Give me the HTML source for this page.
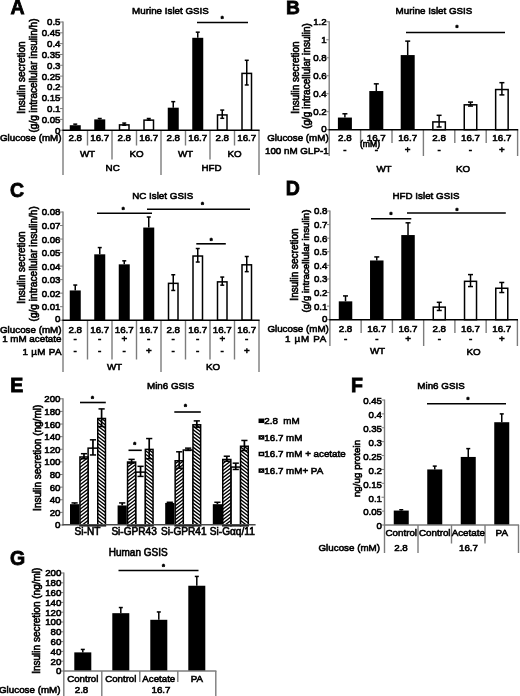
<!DOCTYPE html>
<html lang="en"><head><meta charset="utf-8"><title>GSIS figure</title>
<style>html,body{margin:0;padding:0;background:#fff;}svg{display:block;filter:blur(0.45px);}</style>
</head><body>
<svg width="520" height="696" viewBox="0 0 520 696" font-family='"Liberation Sans", Arial, sans-serif' fill="#000">
<style>text{stroke:#000;stroke-width:0.6px;}</style>
<rect width="520" height="696" fill="#fff"/>
<text x="10.60" y="14.00" font-size="19.5" text-anchor="start" font-weight="bold" style="stroke-width:0.8px">A</text>
<text x="170.50" y="14.03" font-size="9.8" text-anchor="middle">Murine Islet GSIS</text>
<line x1="63.00" y1="21.50" x2="63.00" y2="130.70" stroke="#7c7c7c" stroke-width="1.4" stroke-linecap="butt"/>
<line x1="60.00" y1="130.20" x2="63.00" y2="130.20" stroke="#7c7c7c" stroke-width="1.0" stroke-linecap="butt"/>
<text x="60.50" y="133.69" font-size="9.7" text-anchor="end">0</text>
<line x1="60.00" y1="119.38" x2="63.00" y2="119.38" stroke="#7c7c7c" stroke-width="1.0" stroke-linecap="butt"/>
<text x="60.50" y="122.87" font-size="9.7" text-anchor="end">0.05</text>
<line x1="60.00" y1="108.56" x2="63.00" y2="108.56" stroke="#7c7c7c" stroke-width="1.0" stroke-linecap="butt"/>
<text x="60.50" y="112.05" font-size="9.7" text-anchor="end">0.1</text>
<line x1="60.00" y1="97.74" x2="63.00" y2="97.74" stroke="#7c7c7c" stroke-width="1.0" stroke-linecap="butt"/>
<text x="60.50" y="101.23" font-size="9.7" text-anchor="end">0.15</text>
<line x1="60.00" y1="86.92" x2="63.00" y2="86.92" stroke="#7c7c7c" stroke-width="1.0" stroke-linecap="butt"/>
<text x="60.50" y="90.41" font-size="9.7" text-anchor="end">0.2</text>
<line x1="60.00" y1="76.10" x2="63.00" y2="76.10" stroke="#7c7c7c" stroke-width="1.0" stroke-linecap="butt"/>
<text x="60.50" y="79.59" font-size="9.7" text-anchor="end">0.25</text>
<line x1="60.00" y1="65.28" x2="63.00" y2="65.28" stroke="#7c7c7c" stroke-width="1.0" stroke-linecap="butt"/>
<text x="60.50" y="68.77" font-size="9.7" text-anchor="end">0.3</text>
<line x1="60.00" y1="54.46" x2="63.00" y2="54.46" stroke="#7c7c7c" stroke-width="1.0" stroke-linecap="butt"/>
<text x="60.50" y="57.95" font-size="9.7" text-anchor="end">0.35</text>
<line x1="60.00" y1="43.64" x2="63.00" y2="43.64" stroke="#7c7c7c" stroke-width="1.0" stroke-linecap="butt"/>
<text x="60.50" y="47.13" font-size="9.7" text-anchor="end">0.4</text>
<line x1="60.00" y1="32.82" x2="63.00" y2="32.82" stroke="#7c7c7c" stroke-width="1.0" stroke-linecap="butt"/>
<text x="60.50" y="36.31" font-size="9.7" text-anchor="end">0.45</text>
<line x1="60.00" y1="22.00" x2="63.00" y2="22.00" stroke="#7c7c7c" stroke-width="1.0" stroke-linecap="butt"/>
<text x="60.50" y="25.49" font-size="9.7" text-anchor="end">0.5</text>
<text transform="translate(25.20,77.50) rotate(-90)" font-size="10.0" text-anchor="middle">Insulin secretion</text>
<text transform="translate(36.80,75.50) rotate(-90)" font-size="10.0" text-anchor="middle">(g/g intracellular insulin/h)</text>
<rect x="69.75" y="125.22" width="11.00" height="4.98" fill="#000"/>
<line x1="75.25" y1="125.22" x2="75.25" y2="124.14" stroke="#000" stroke-width="1.5" stroke-linecap="butt"/>
<line x1="73.25" y1="124.14" x2="77.25" y2="124.14" stroke="#000" stroke-width="1.5" stroke-linecap="butt"/>
<rect x="94.25" y="119.38" width="11.00" height="10.82" fill="#000"/>
<line x1="99.75" y1="119.38" x2="99.75" y2="118.51" stroke="#000" stroke-width="1.5" stroke-linecap="butt"/>
<line x1="97.75" y1="118.51" x2="101.75" y2="118.51" stroke="#000" stroke-width="1.5" stroke-linecap="butt"/>
<rect x="119.50" y="124.89" width="9.50" height="5.31" fill="#fff" stroke="#000" stroke-width="1.5"/>
<line x1="124.25" y1="125.22" x2="124.25" y2="123.06" stroke="#000" stroke-width="1.5" stroke-linecap="butt"/>
<line x1="122.25" y1="123.06" x2="126.25" y2="123.06" stroke="#000" stroke-width="1.5" stroke-linecap="butt"/>
<line x1="122.25" y1="125.22" x2="126.25" y2="125.22" stroke="#000" stroke-width="1.5" stroke-linecap="butt"/>
<rect x="144.00" y="120.13" width="9.50" height="10.07" fill="#fff" stroke="#000" stroke-width="1.5"/>
<line x1="148.75" y1="120.25" x2="148.75" y2="118.51" stroke="#000" stroke-width="1.5" stroke-linecap="butt"/>
<line x1="146.75" y1="118.51" x2="150.75" y2="118.51" stroke="#000" stroke-width="1.5" stroke-linecap="butt"/>
<line x1="146.75" y1="120.25" x2="150.75" y2="120.25" stroke="#000" stroke-width="1.5" stroke-linecap="butt"/>
<rect x="167.75" y="107.69" width="11.00" height="22.51" fill="#000"/>
<line x1="173.25" y1="107.69" x2="173.25" y2="101.64" stroke="#000" stroke-width="1.5" stroke-linecap="butt"/>
<line x1="171.25" y1="101.64" x2="175.25" y2="101.64" stroke="#000" stroke-width="1.5" stroke-linecap="butt"/>
<rect x="192.25" y="37.80" width="11.00" height="92.40" fill="#000"/>
<line x1="197.75" y1="37.80" x2="197.75" y2="32.17" stroke="#000" stroke-width="1.5" stroke-linecap="butt"/>
<line x1="195.75" y1="32.17" x2="199.75" y2="32.17" stroke="#000" stroke-width="1.5" stroke-linecap="butt"/>
<rect x="217.50" y="114.94" width="9.50" height="15.26" fill="#fff" stroke="#000" stroke-width="1.5"/>
<line x1="222.25" y1="118.30" x2="222.25" y2="110.07" stroke="#000" stroke-width="1.5" stroke-linecap="butt"/>
<line x1="220.25" y1="110.07" x2="224.25" y2="110.07" stroke="#000" stroke-width="1.5" stroke-linecap="butt"/>
<line x1="220.25" y1="118.30" x2="224.25" y2="118.30" stroke="#000" stroke-width="1.5" stroke-linecap="butt"/>
<rect x="242.00" y="73.39" width="9.50" height="56.81" fill="#fff" stroke="#000" stroke-width="1.5"/>
<line x1="246.75" y1="84.97" x2="246.75" y2="60.30" stroke="#000" stroke-width="1.5" stroke-linecap="butt"/>
<line x1="244.75" y1="60.30" x2="248.75" y2="60.30" stroke="#000" stroke-width="1.5" stroke-linecap="butt"/>
<line x1="244.75" y1="84.97" x2="248.75" y2="84.97" stroke="#000" stroke-width="1.5" stroke-linecap="butt"/>
<line x1="63.00" y1="130.20" x2="63.00" y2="175.00" stroke="#7c7c7c" stroke-width="1.4" stroke-linecap="butt"/>
<line x1="87.50" y1="130.20" x2="87.50" y2="145.50" stroke="#7c7c7c" stroke-width="1.4" stroke-linecap="butt"/>
<line x1="112.00" y1="130.20" x2="112.00" y2="159.50" stroke="#7c7c7c" stroke-width="1.4" stroke-linecap="butt"/>
<line x1="136.50" y1="130.20" x2="136.50" y2="145.50" stroke="#7c7c7c" stroke-width="1.4" stroke-linecap="butt"/>
<line x1="161.00" y1="130.20" x2="161.00" y2="175.00" stroke="#7c7c7c" stroke-width="1.4" stroke-linecap="butt"/>
<line x1="185.50" y1="130.20" x2="185.50" y2="145.50" stroke="#7c7c7c" stroke-width="1.4" stroke-linecap="butt"/>
<line x1="210.00" y1="130.20" x2="210.00" y2="159.50" stroke="#7c7c7c" stroke-width="1.4" stroke-linecap="butt"/>
<line x1="234.50" y1="130.20" x2="234.50" y2="145.50" stroke="#7c7c7c" stroke-width="1.4" stroke-linecap="butt"/>
<line x1="259.00" y1="130.20" x2="259.00" y2="175.00" stroke="#7c7c7c" stroke-width="1.4" stroke-linecap="butt"/>
<line x1="62.40" y1="130.20" x2="259.60" y2="130.20" stroke="#000" stroke-width="1.5" stroke-linecap="butt"/>
<text x="61.50" y="140.83" font-size="9.8" text-anchor="end">Glucose (mM)</text>
<text x="75.25" y="140.83" font-size="9.8" text-anchor="middle">2.8</text>
<text x="99.75" y="140.83" font-size="9.8" text-anchor="middle">16.7</text>
<text x="124.25" y="140.83" font-size="9.8" text-anchor="middle">2.8</text>
<text x="148.75" y="140.83" font-size="9.8" text-anchor="middle">16.7</text>
<text x="173.25" y="140.83" font-size="9.8" text-anchor="middle">2.8</text>
<text x="197.75" y="140.83" font-size="9.8" text-anchor="middle">16.7</text>
<text x="222.25" y="140.83" font-size="9.8" text-anchor="middle">2.8</text>
<text x="246.75" y="140.83" font-size="9.8" text-anchor="middle">16.7</text>
<text x="87.50" y="157.03" font-size="9.8" text-anchor="middle">WT</text>
<text x="136.50" y="157.03" font-size="9.8" text-anchor="middle">KO</text>
<text x="185.50" y="157.03" font-size="9.8" text-anchor="middle">WT</text>
<text x="234.50" y="157.03" font-size="9.8" text-anchor="middle">KO</text>
<text x="112.70" y="171.23" font-size="9.8" text-anchor="middle">NC</text>
<text x="211.50" y="171.23" font-size="9.8" text-anchor="middle">HFD</text>
<line x1="197.00" y1="22.50" x2="248.00" y2="22.50" stroke="#000" stroke-width="1.6" stroke-linecap="butt"/>
<text x="222.20" y="20.55" font-size="7.5" text-anchor="middle" font-weight="bold">*</text>
<text x="285.90" y="14.20" font-size="19.2" text-anchor="start" font-weight="bold" style="stroke-width:0.8px">B</text>
<text x="434.00" y="14.03" font-size="9.8" text-anchor="middle">Murine Islet GSIS</text>
<line x1="329.20" y1="21.30" x2="329.20" y2="130.20" stroke="#7c7c7c" stroke-width="1.4" stroke-linecap="butt"/>
<line x1="326.20" y1="129.70" x2="329.20" y2="129.70" stroke="#7c7c7c" stroke-width="1.0" stroke-linecap="butt"/>
<text x="326.70" y="132.19" font-size="9.7" text-anchor="end">0</text>
<line x1="326.20" y1="111.72" x2="329.20" y2="111.72" stroke="#7c7c7c" stroke-width="1.0" stroke-linecap="butt"/>
<text x="326.70" y="115.21" font-size="9.7" text-anchor="end">0.2</text>
<line x1="326.20" y1="93.73" x2="329.20" y2="93.73" stroke="#7c7c7c" stroke-width="1.0" stroke-linecap="butt"/>
<text x="326.70" y="97.23" font-size="9.7" text-anchor="end">0.4</text>
<line x1="326.20" y1="75.75" x2="329.20" y2="75.75" stroke="#7c7c7c" stroke-width="1.0" stroke-linecap="butt"/>
<text x="326.70" y="79.24" font-size="9.7" text-anchor="end">0.6</text>
<line x1="326.20" y1="57.77" x2="329.20" y2="57.77" stroke="#7c7c7c" stroke-width="1.0" stroke-linecap="butt"/>
<text x="326.70" y="61.26" font-size="9.7" text-anchor="end">0.8</text>
<line x1="326.20" y1="39.78" x2="329.20" y2="39.78" stroke="#7c7c7c" stroke-width="1.0" stroke-linecap="butt"/>
<text x="326.70" y="43.28" font-size="9.7" text-anchor="end">1</text>
<line x1="326.20" y1="21.80" x2="329.20" y2="21.80" stroke="#7c7c7c" stroke-width="1.0" stroke-linecap="butt"/>
<text x="326.70" y="25.29" font-size="9.7" text-anchor="end">1.2</text>
<text transform="translate(299.00,77.50) rotate(-90)" font-size="10.0" text-anchor="middle">Insulin secretion</text>
<text transform="translate(310.00,76.00) rotate(-90)" font-size="10.0" text-anchor="middle">(g/g intracellular insulin)</text>
<rect x="337.90" y="117.56" width="14.00" height="12.14" fill="#000"/>
<line x1="344.90" y1="117.56" x2="344.90" y2="113.78" stroke="#000" stroke-width="1.5" stroke-linecap="butt"/>
<line x1="342.40" y1="113.78" x2="347.40" y2="113.78" stroke="#000" stroke-width="1.5" stroke-linecap="butt"/>
<rect x="369.30" y="91.04" width="14.00" height="38.66" fill="#000"/>
<line x1="376.30" y1="91.04" x2="376.30" y2="83.84" stroke="#000" stroke-width="1.5" stroke-linecap="butt"/>
<line x1="373.80" y1="83.84" x2="378.80" y2="83.84" stroke="#000" stroke-width="1.5" stroke-linecap="butt"/>
<rect x="400.70" y="55.07" width="14.00" height="74.63" fill="#000"/>
<line x1="407.70" y1="55.07" x2="407.70" y2="41.13" stroke="#000" stroke-width="1.5" stroke-linecap="butt"/>
<line x1="405.20" y1="41.13" x2="410.20" y2="41.13" stroke="#000" stroke-width="1.5" stroke-linecap="butt"/>
<rect x="432.85" y="121.91" width="12.50" height="7.79" fill="#fff" stroke="#000" stroke-width="1.5"/>
<line x1="439.10" y1="127.00" x2="439.10" y2="115.31" stroke="#000" stroke-width="1.5" stroke-linecap="butt"/>
<line x1="436.60" y1="115.31" x2="441.60" y2="115.31" stroke="#000" stroke-width="1.5" stroke-linecap="butt"/>
<line x1="436.60" y1="127.00" x2="441.60" y2="127.00" stroke="#000" stroke-width="1.5" stroke-linecap="butt"/>
<rect x="464.25" y="104.82" width="12.50" height="24.88" fill="#fff" stroke="#000" stroke-width="1.5"/>
<line x1="470.50" y1="106.05" x2="470.50" y2="102.10" stroke="#000" stroke-width="1.5" stroke-linecap="butt"/>
<line x1="468.00" y1="102.10" x2="473.00" y2="102.10" stroke="#000" stroke-width="1.5" stroke-linecap="butt"/>
<line x1="468.00" y1="106.05" x2="473.00" y2="106.05" stroke="#000" stroke-width="1.5" stroke-linecap="butt"/>
<rect x="495.65" y="89.54" width="12.50" height="40.16" fill="#fff" stroke="#000" stroke-width="1.5"/>
<line x1="501.90" y1="94.90" x2="501.90" y2="82.67" stroke="#000" stroke-width="1.5" stroke-linecap="butt"/>
<line x1="499.40" y1="82.67" x2="504.40" y2="82.67" stroke="#000" stroke-width="1.5" stroke-linecap="butt"/>
<line x1="499.40" y1="94.90" x2="504.40" y2="94.90" stroke="#000" stroke-width="1.5" stroke-linecap="butt"/>
<line x1="329.20" y1="129.70" x2="329.20" y2="156.00" stroke="#7c7c7c" stroke-width="1.4" stroke-linecap="butt"/>
<line x1="360.60" y1="129.70" x2="360.60" y2="143.00" stroke="#7c7c7c" stroke-width="1.4" stroke-linecap="butt"/>
<line x1="392.00" y1="129.70" x2="392.00" y2="143.00" stroke="#7c7c7c" stroke-width="1.4" stroke-linecap="butt"/>
<line x1="423.40" y1="129.70" x2="423.40" y2="156.00" stroke="#7c7c7c" stroke-width="1.4" stroke-linecap="butt"/>
<line x1="454.80" y1="129.70" x2="454.80" y2="143.00" stroke="#7c7c7c" stroke-width="1.4" stroke-linecap="butt"/>
<line x1="486.20" y1="129.70" x2="486.20" y2="143.00" stroke="#7c7c7c" stroke-width="1.4" stroke-linecap="butt"/>
<line x1="517.60" y1="129.70" x2="517.60" y2="156.00" stroke="#7c7c7c" stroke-width="1.4" stroke-linecap="butt"/>
<line x1="328.60" y1="129.70" x2="518.20" y2="129.70" stroke="#000" stroke-width="1.5" stroke-linecap="butt"/>
<text x="328.70" y="141.03" font-size="9.8" text-anchor="end">Glucose (mM)</text>
<text x="328.70" y="153.83" font-size="9.8" text-anchor="end">100 nM GLP-1</text>
<text x="344.90" y="141.03" font-size="9.8" text-anchor="middle">2.8</text>
<text x="376.30" y="141.03" font-size="9.8" text-anchor="middle">16.7</text>
<text x="407.70" y="141.03" font-size="9.8" text-anchor="middle">16.7</text>
<text x="439.10" y="141.03" font-size="9.8" text-anchor="middle">2.8</text>
<text x="470.50" y="141.03" font-size="9.8" text-anchor="middle">16.7</text>
<text x="501.90" y="141.03" font-size="9.8" text-anchor="middle">16.7</text>
<text x="344.90" y="153.03" font-size="9.8" text-anchor="middle">-</text>
<text x="376.30" y="153.03" font-size="9.8" text-anchor="middle">-</text>
<text x="407.70" y="153.03" font-size="9.8" text-anchor="middle">+</text>
<text x="439.10" y="153.03" font-size="9.8" text-anchor="middle">-</text>
<text x="470.50" y="153.03" font-size="9.8" text-anchor="middle">-</text>
<text x="501.90" y="153.03" font-size="9.8" text-anchor="middle">+</text>
<text x="370.00" y="147.40" font-size="8.6" text-anchor="middle">(mM)</text>
<text x="384.00" y="171.53" font-size="9.8" text-anchor="middle">WT</text>
<text x="463.00" y="171.53" font-size="9.8" text-anchor="middle">KO</text>
<line x1="406.00" y1="32.50" x2="505.00" y2="32.50" stroke="#000" stroke-width="1.6" stroke-linecap="butt"/>
<text x="457.00" y="30.05" font-size="7.5" text-anchor="middle" font-weight="bold">*</text>
<text x="9.90" y="196.70" font-size="19.5" text-anchor="start" font-weight="bold" style="stroke-width:0.8px">C</text>
<text x="162.70" y="198.83" font-size="9.8" text-anchor="middle">NC Islet GSIS</text>
<line x1="63.00" y1="211.50" x2="63.00" y2="320.70" stroke="#7c7c7c" stroke-width="1.4" stroke-linecap="butt"/>
<line x1="60.00" y1="320.20" x2="63.00" y2="320.20" stroke="#7c7c7c" stroke-width="1.0" stroke-linecap="butt"/>
<text x="60.50" y="322.49" font-size="9.7" text-anchor="end">0</text>
<line x1="60.00" y1="306.68" x2="63.00" y2="306.68" stroke="#7c7c7c" stroke-width="1.0" stroke-linecap="butt"/>
<text x="60.50" y="310.17" font-size="9.7" text-anchor="end">0.01</text>
<line x1="60.00" y1="293.15" x2="63.00" y2="293.15" stroke="#7c7c7c" stroke-width="1.0" stroke-linecap="butt"/>
<text x="60.50" y="296.64" font-size="9.7" text-anchor="end">0.02</text>
<line x1="60.00" y1="279.62" x2="63.00" y2="279.62" stroke="#7c7c7c" stroke-width="1.0" stroke-linecap="butt"/>
<text x="60.50" y="283.12" font-size="9.7" text-anchor="end">0.03</text>
<line x1="60.00" y1="266.10" x2="63.00" y2="266.10" stroke="#7c7c7c" stroke-width="1.0" stroke-linecap="butt"/>
<text x="60.50" y="269.59" font-size="9.7" text-anchor="end">0.04</text>
<line x1="60.00" y1="252.57" x2="63.00" y2="252.57" stroke="#7c7c7c" stroke-width="1.0" stroke-linecap="butt"/>
<text x="60.50" y="256.07" font-size="9.7" text-anchor="end">0.05</text>
<line x1="60.00" y1="239.05" x2="63.00" y2="239.05" stroke="#7c7c7c" stroke-width="1.0" stroke-linecap="butt"/>
<text x="60.50" y="242.54" font-size="9.7" text-anchor="end">0.06</text>
<line x1="60.00" y1="225.53" x2="63.00" y2="225.53" stroke="#7c7c7c" stroke-width="1.0" stroke-linecap="butt"/>
<text x="60.50" y="229.02" font-size="9.7" text-anchor="end">0.07</text>
<line x1="60.00" y1="212.00" x2="63.00" y2="212.00" stroke="#7c7c7c" stroke-width="1.0" stroke-linecap="butt"/>
<text x="60.50" y="215.49" font-size="9.7" text-anchor="end">0.08</text>
<text transform="translate(25.20,267.50) rotate(-90)" font-size="10.0" text-anchor="middle">Insulin secretion</text>
<text transform="translate(36.80,263.80) rotate(-90)" font-size="10.15" text-anchor="middle">(g/g intracellular insulin/h)</text>
<rect x="69.75" y="290.44" width="11.00" height="29.75" fill="#000"/>
<line x1="75.25" y1="290.44" x2="75.25" y2="285.03" stroke="#000" stroke-width="1.5" stroke-linecap="butt"/>
<line x1="73.25" y1="285.03" x2="77.25" y2="285.03" stroke="#000" stroke-width="1.5" stroke-linecap="butt"/>
<rect x="94.25" y="254.33" width="11.00" height="65.87" fill="#000"/>
<line x1="99.75" y1="254.33" x2="99.75" y2="247.57" stroke="#000" stroke-width="1.5" stroke-linecap="butt"/>
<line x1="97.75" y1="247.57" x2="101.75" y2="247.57" stroke="#000" stroke-width="1.5" stroke-linecap="butt"/>
<rect x="118.75" y="264.34" width="11.00" height="55.86" fill="#000"/>
<line x1="124.25" y1="264.34" x2="124.25" y2="260.83" stroke="#000" stroke-width="1.5" stroke-linecap="butt"/>
<line x1="122.25" y1="260.83" x2="126.25" y2="260.83" stroke="#000" stroke-width="1.5" stroke-linecap="butt"/>
<rect x="143.25" y="227.55" width="11.00" height="92.65" fill="#000"/>
<line x1="148.75" y1="227.55" x2="148.75" y2="217.00" stroke="#000" stroke-width="1.5" stroke-linecap="butt"/>
<line x1="146.75" y1="217.00" x2="150.75" y2="217.00" stroke="#000" stroke-width="1.5" stroke-linecap="butt"/>
<rect x="168.50" y="283.35" width="9.50" height="36.85" fill="#fff" stroke="#000" stroke-width="1.5"/>
<line x1="173.25" y1="290.44" x2="173.25" y2="274.76" stroke="#000" stroke-width="1.5" stroke-linecap="butt"/>
<line x1="171.25" y1="274.76" x2="175.25" y2="274.76" stroke="#000" stroke-width="1.5" stroke-linecap="butt"/>
<line x1="171.25" y1="290.44" x2="175.25" y2="290.44" stroke="#000" stroke-width="1.5" stroke-linecap="butt"/>
<rect x="193.00" y="256.03" width="9.50" height="64.17" fill="#fff" stroke="#000" stroke-width="1.5"/>
<line x1="197.75" y1="262.04" x2="197.75" y2="248.52" stroke="#000" stroke-width="1.5" stroke-linecap="butt"/>
<line x1="195.75" y1="248.52" x2="199.75" y2="248.52" stroke="#000" stroke-width="1.5" stroke-linecap="butt"/>
<line x1="195.75" y1="262.04" x2="199.75" y2="262.04" stroke="#000" stroke-width="1.5" stroke-linecap="butt"/>
<rect x="217.50" y="281.86" width="9.50" height="38.34" fill="#fff" stroke="#000" stroke-width="1.5"/>
<line x1="222.25" y1="285.17" x2="222.25" y2="277.06" stroke="#000" stroke-width="1.5" stroke-linecap="butt"/>
<line x1="220.25" y1="277.06" x2="224.25" y2="277.06" stroke="#000" stroke-width="1.5" stroke-linecap="butt"/>
<line x1="220.25" y1="285.17" x2="224.25" y2="285.17" stroke="#000" stroke-width="1.5" stroke-linecap="butt"/>
<rect x="242.00" y="264.82" width="9.50" height="55.38" fill="#fff" stroke="#000" stroke-width="1.5"/>
<line x1="246.75" y1="271.65" x2="246.75" y2="256.50" stroke="#000" stroke-width="1.5" stroke-linecap="butt"/>
<line x1="244.75" y1="256.50" x2="248.75" y2="256.50" stroke="#000" stroke-width="1.5" stroke-linecap="butt"/>
<line x1="244.75" y1="271.65" x2="248.75" y2="271.65" stroke="#000" stroke-width="1.5" stroke-linecap="butt"/>
<line x1="63.00" y1="320.20" x2="63.00" y2="372.00" stroke="#7c7c7c" stroke-width="1.4" stroke-linecap="butt"/>
<line x1="87.50" y1="320.20" x2="87.50" y2="359.50" stroke="#7c7c7c" stroke-width="1.4" stroke-linecap="butt"/>
<line x1="112.00" y1="320.20" x2="112.00" y2="359.50" stroke="#7c7c7c" stroke-width="1.4" stroke-linecap="butt"/>
<line x1="136.50" y1="320.20" x2="136.50" y2="359.50" stroke="#7c7c7c" stroke-width="1.4" stroke-linecap="butt"/>
<line x1="161.00" y1="320.20" x2="161.00" y2="372.00" stroke="#7c7c7c" stroke-width="1.4" stroke-linecap="butt"/>
<line x1="185.50" y1="320.20" x2="185.50" y2="359.50" stroke="#7c7c7c" stroke-width="1.4" stroke-linecap="butt"/>
<line x1="210.00" y1="320.20" x2="210.00" y2="359.50" stroke="#7c7c7c" stroke-width="1.4" stroke-linecap="butt"/>
<line x1="234.50" y1="320.20" x2="234.50" y2="359.50" stroke="#7c7c7c" stroke-width="1.4" stroke-linecap="butt"/>
<line x1="259.00" y1="320.20" x2="259.00" y2="372.00" stroke="#7c7c7c" stroke-width="1.4" stroke-linecap="butt"/>
<line x1="62.40" y1="320.20" x2="259.60" y2="320.20" stroke="#000" stroke-width="1.5" stroke-linecap="butt"/>
<text x="61.50" y="332.73" font-size="9.8" text-anchor="end">Glucose (mM)</text>
<text x="61.50" y="342.23" font-size="9.8" text-anchor="end">1 mM acetate</text>
<text x="61.50" y="354.73" font-size="9.8" text-anchor="end" textLength="39">1 µM PA</text>
<text x="75.25" y="332.73" font-size="9.8" text-anchor="middle">2.8</text>
<text x="99.75" y="332.73" font-size="9.8" text-anchor="middle">16.7</text>
<text x="124.25" y="332.73" font-size="9.8" text-anchor="middle">16.7</text>
<text x="148.75" y="332.73" font-size="9.8" text-anchor="middle">16.7</text>
<text x="173.25" y="332.73" font-size="9.8" text-anchor="middle">2.8</text>
<text x="197.75" y="332.73" font-size="9.8" text-anchor="middle">16.7</text>
<text x="222.25" y="332.73" font-size="9.8" text-anchor="middle">16.7</text>
<text x="246.75" y="332.73" font-size="9.8" text-anchor="middle">16.7</text>
<text x="75.25" y="341.53" font-size="9.8" text-anchor="middle">-</text>
<text x="99.75" y="341.53" font-size="9.8" text-anchor="middle">-</text>
<text x="124.25" y="341.53" font-size="9.8" text-anchor="middle">+</text>
<text x="148.75" y="341.53" font-size="9.8" text-anchor="middle">-</text>
<text x="173.25" y="341.53" font-size="9.8" text-anchor="middle">-</text>
<text x="197.75" y="341.53" font-size="9.8" text-anchor="middle">-</text>
<text x="222.25" y="341.53" font-size="9.8" text-anchor="middle">+</text>
<text x="246.75" y="341.53" font-size="9.8" text-anchor="middle">-</text>
<text x="75.25" y="354.03" font-size="9.8" text-anchor="middle">-</text>
<text x="99.75" y="354.03" font-size="9.8" text-anchor="middle">-</text>
<text x="124.25" y="354.03" font-size="9.8" text-anchor="middle">-</text>
<text x="148.75" y="354.03" font-size="9.8" text-anchor="middle">+</text>
<text x="173.25" y="354.03" font-size="9.8" text-anchor="middle">-</text>
<text x="197.75" y="354.03" font-size="9.8" text-anchor="middle">-</text>
<text x="222.25" y="354.03" font-size="9.8" text-anchor="middle">-</text>
<text x="246.75" y="354.03" font-size="9.8" text-anchor="middle">+</text>
<text x="114.50" y="370.03" font-size="9.8" text-anchor="middle">WT</text>
<text x="213.00" y="370.03" font-size="9.8" text-anchor="middle">KO</text>
<line x1="97.00" y1="213.20" x2="152.00" y2="213.20" stroke="#000" stroke-width="1.6" stroke-linecap="butt"/>
<text x="123.30" y="211.85" font-size="7.5" text-anchor="middle" font-weight="bold">*</text>
<line x1="147.00" y1="209.30" x2="250.00" y2="209.30" stroke="#000" stroke-width="1.6" stroke-linecap="butt"/>
<text x="202.50" y="207.05" font-size="7.5" text-anchor="middle" font-weight="bold">*</text>
<line x1="196.30" y1="243.80" x2="225.80" y2="243.80" stroke="#000" stroke-width="1.6" stroke-linecap="butt"/>
<text x="211.30" y="243.05" font-size="7.5" text-anchor="middle" font-weight="bold">*</text>
<text x="285.70" y="195.10" font-size="19.5" text-anchor="start" font-weight="bold" style="stroke-width:0.8px">D</text>
<text x="426.00" y="198.83" font-size="9.8" text-anchor="middle">HFD Islet GSIS</text>
<line x1="329.90" y1="210.50" x2="329.90" y2="320.20" stroke="#7c7c7c" stroke-width="1.4" stroke-linecap="butt"/>
<line x1="326.90" y1="319.70" x2="329.90" y2="319.70" stroke="#7c7c7c" stroke-width="1.0" stroke-linecap="butt"/>
<text x="327.40" y="321.99" font-size="9.7" text-anchor="end">0</text>
<line x1="326.90" y1="306.11" x2="329.90" y2="306.11" stroke="#7c7c7c" stroke-width="1.0" stroke-linecap="butt"/>
<text x="327.40" y="309.60" font-size="9.7" text-anchor="end">0.1</text>
<line x1="326.90" y1="292.52" x2="329.90" y2="292.52" stroke="#7c7c7c" stroke-width="1.0" stroke-linecap="butt"/>
<text x="327.40" y="296.02" font-size="9.7" text-anchor="end">0.2</text>
<line x1="326.90" y1="278.94" x2="329.90" y2="278.94" stroke="#7c7c7c" stroke-width="1.0" stroke-linecap="butt"/>
<text x="327.40" y="282.43" font-size="9.7" text-anchor="end">0.3</text>
<line x1="326.90" y1="265.35" x2="329.90" y2="265.35" stroke="#7c7c7c" stroke-width="1.0" stroke-linecap="butt"/>
<text x="327.40" y="268.84" font-size="9.7" text-anchor="end">0.4</text>
<line x1="326.90" y1="251.76" x2="329.90" y2="251.76" stroke="#7c7c7c" stroke-width="1.0" stroke-linecap="butt"/>
<text x="327.40" y="255.25" font-size="9.7" text-anchor="end">0.5</text>
<line x1="326.90" y1="238.18" x2="329.90" y2="238.18" stroke="#7c7c7c" stroke-width="1.0" stroke-linecap="butt"/>
<text x="327.40" y="241.67" font-size="9.7" text-anchor="end">0.6</text>
<line x1="326.90" y1="224.59" x2="329.90" y2="224.59" stroke="#7c7c7c" stroke-width="1.0" stroke-linecap="butt"/>
<text x="327.40" y="228.08" font-size="9.7" text-anchor="end">0.7</text>
<line x1="326.90" y1="211.00" x2="329.90" y2="211.00" stroke="#7c7c7c" stroke-width="1.0" stroke-linecap="butt"/>
<text x="327.40" y="214.49" font-size="9.7" text-anchor="end">0.8</text>
<text transform="translate(297.70,264.50) rotate(-90)" font-size="10.0" text-anchor="middle">Insulin secretion</text>
<text transform="translate(308.70,261.00) rotate(-90)" font-size="9.75" text-anchor="middle">(g/g intracellular insulin)</text>
<rect x="338.77" y="301.36" width="13.50" height="18.34" fill="#000"/>
<line x1="345.52" y1="301.36" x2="345.52" y2="295.92" stroke="#000" stroke-width="1.5" stroke-linecap="butt"/>
<line x1="343.02" y1="295.92" x2="348.02" y2="295.92" stroke="#000" stroke-width="1.5" stroke-linecap="butt"/>
<rect x="370.02" y="260.46" width="13.50" height="59.24" fill="#000"/>
<line x1="376.77" y1="260.46" x2="376.77" y2="256.93" stroke="#000" stroke-width="1.5" stroke-linecap="butt"/>
<line x1="374.27" y1="256.93" x2="379.27" y2="256.93" stroke="#000" stroke-width="1.5" stroke-linecap="butt"/>
<rect x="401.27" y="235.05" width="13.50" height="84.65" fill="#000"/>
<line x1="408.02" y1="235.05" x2="408.02" y2="222.82" stroke="#000" stroke-width="1.5" stroke-linecap="butt"/>
<line x1="405.52" y1="222.82" x2="410.52" y2="222.82" stroke="#000" stroke-width="1.5" stroke-linecap="butt"/>
<rect x="433.27" y="307.13" width="12.00" height="12.57" fill="#fff" stroke="#000" stroke-width="1.5"/>
<line x1="439.27" y1="310.46" x2="439.27" y2="302.31" stroke="#000" stroke-width="1.5" stroke-linecap="butt"/>
<line x1="436.77" y1="302.31" x2="441.77" y2="302.31" stroke="#000" stroke-width="1.5" stroke-linecap="butt"/>
<line x1="436.77" y1="310.46" x2="441.77" y2="310.46" stroke="#000" stroke-width="1.5" stroke-linecap="butt"/>
<rect x="464.52" y="281.32" width="12.00" height="38.38" fill="#fff" stroke="#000" stroke-width="1.5"/>
<line x1="470.52" y1="286.55" x2="470.52" y2="274.59" stroke="#000" stroke-width="1.5" stroke-linecap="butt"/>
<line x1="468.02" y1="274.59" x2="473.02" y2="274.59" stroke="#000" stroke-width="1.5" stroke-linecap="butt"/>
<line x1="468.02" y1="286.55" x2="473.02" y2="286.55" stroke="#000" stroke-width="1.5" stroke-linecap="butt"/>
<rect x="495.77" y="288.25" width="12.00" height="31.45" fill="#fff" stroke="#000" stroke-width="1.5"/>
<line x1="501.77" y1="292.52" x2="501.77" y2="282.47" stroke="#000" stroke-width="1.5" stroke-linecap="butt"/>
<line x1="499.27" y1="282.47" x2="504.27" y2="282.47" stroke="#000" stroke-width="1.5" stroke-linecap="butt"/>
<line x1="499.27" y1="292.52" x2="504.27" y2="292.52" stroke="#000" stroke-width="1.5" stroke-linecap="butt"/>
<line x1="329.90" y1="319.70" x2="329.90" y2="346.00" stroke="#7c7c7c" stroke-width="1.4" stroke-linecap="butt"/>
<line x1="361.15" y1="319.70" x2="361.15" y2="333.00" stroke="#7c7c7c" stroke-width="1.4" stroke-linecap="butt"/>
<line x1="392.40" y1="319.70" x2="392.40" y2="333.00" stroke="#7c7c7c" stroke-width="1.4" stroke-linecap="butt"/>
<line x1="423.65" y1="319.70" x2="423.65" y2="346.00" stroke="#7c7c7c" stroke-width="1.4" stroke-linecap="butt"/>
<line x1="454.90" y1="319.70" x2="454.90" y2="333.00" stroke="#7c7c7c" stroke-width="1.4" stroke-linecap="butt"/>
<line x1="486.15" y1="319.70" x2="486.15" y2="333.00" stroke="#7c7c7c" stroke-width="1.4" stroke-linecap="butt"/>
<line x1="517.40" y1="319.70" x2="517.40" y2="346.00" stroke="#7c7c7c" stroke-width="1.4" stroke-linecap="butt"/>
<line x1="329.30" y1="319.70" x2="518.00" y2="319.70" stroke="#000" stroke-width="1.5" stroke-linecap="butt"/>
<text x="328.90" y="331.83" font-size="9.8" text-anchor="end">Glucose (mM)</text>
<text x="326.40" y="342.03" font-size="9.8" text-anchor="end" textLength="41.5">1 µM PA</text>
<text x="345.52" y="331.73" font-size="9.8" text-anchor="middle">2.8</text>
<text x="376.77" y="331.73" font-size="9.8" text-anchor="middle">16.7</text>
<text x="408.02" y="331.73" font-size="9.8" text-anchor="middle">16.7</text>
<text x="439.27" y="331.73" font-size="9.8" text-anchor="middle">2.8</text>
<text x="470.52" y="331.73" font-size="9.8" text-anchor="middle">16.7</text>
<text x="501.77" y="331.73" font-size="9.8" text-anchor="middle">16.7</text>
<text x="345.52" y="341.73" font-size="9.8" text-anchor="middle">-</text>
<text x="376.77" y="341.73" font-size="9.8" text-anchor="middle">-</text>
<text x="408.02" y="341.73" font-size="9.8" text-anchor="middle">+</text>
<text x="439.27" y="341.73" font-size="9.8" text-anchor="middle">-</text>
<text x="470.52" y="341.73" font-size="9.8" text-anchor="middle">-</text>
<text x="501.77" y="341.73" font-size="9.8" text-anchor="middle">+</text>
<text x="377.50" y="354.33" font-size="9.8" text-anchor="middle">WT</text>
<text x="473.50" y="354.53" font-size="9.8" text-anchor="middle">KO</text>
<line x1="371.00" y1="218.80" x2="411.30" y2="218.80" stroke="#000" stroke-width="1.6" stroke-linecap="butt"/>
<text x="391.00" y="216.55" font-size="7.5" text-anchor="middle" font-weight="bold">*</text>
<line x1="407.00" y1="213.00" x2="505.80" y2="213.00" stroke="#000" stroke-width="1.6" stroke-linecap="butt"/>
<text x="457.00" y="212.55" font-size="7.5" text-anchor="middle" font-weight="bold">*</text>
<text x="10.30" y="391.70" font-size="19.5" text-anchor="start" font-weight="bold" style="stroke-width:0.8px">E</text>
<text x="170.70" y="388.83" font-size="9.8" text-anchor="middle">Min6 GSIS</text>
<line x1="63.00" y1="398.30" x2="63.00" y2="525.50" stroke="#7c7c7c" stroke-width="1.4" stroke-linecap="butt"/>
<line x1="60.00" y1="525.00" x2="63.00" y2="525.00" stroke="#7c7c7c" stroke-width="1.0" stroke-linecap="butt"/>
<text x="60.50" y="528.49" font-size="9.7" text-anchor="end">0</text>
<line x1="60.00" y1="512.38" x2="63.00" y2="512.38" stroke="#7c7c7c" stroke-width="1.0" stroke-linecap="butt"/>
<text x="60.50" y="515.87" font-size="9.7" text-anchor="end">20</text>
<line x1="60.00" y1="499.76" x2="63.00" y2="499.76" stroke="#7c7c7c" stroke-width="1.0" stroke-linecap="butt"/>
<text x="60.50" y="503.25" font-size="9.7" text-anchor="end">40</text>
<line x1="60.00" y1="487.14" x2="63.00" y2="487.14" stroke="#7c7c7c" stroke-width="1.0" stroke-linecap="butt"/>
<text x="60.50" y="490.63" font-size="9.7" text-anchor="end">60</text>
<line x1="60.00" y1="474.52" x2="63.00" y2="474.52" stroke="#7c7c7c" stroke-width="1.0" stroke-linecap="butt"/>
<text x="60.50" y="478.01" font-size="9.7" text-anchor="end">80</text>
<line x1="60.00" y1="461.90" x2="63.00" y2="461.90" stroke="#7c7c7c" stroke-width="1.0" stroke-linecap="butt"/>
<text x="60.50" y="465.39" font-size="9.7" text-anchor="end">100</text>
<line x1="60.00" y1="449.28" x2="63.00" y2="449.28" stroke="#7c7c7c" stroke-width="1.0" stroke-linecap="butt"/>
<text x="60.50" y="452.77" font-size="9.7" text-anchor="end">120</text>
<line x1="60.00" y1="436.66" x2="63.00" y2="436.66" stroke="#7c7c7c" stroke-width="1.0" stroke-linecap="butt"/>
<text x="60.50" y="440.15" font-size="9.7" text-anchor="end">140</text>
<line x1="60.00" y1="424.04" x2="63.00" y2="424.04" stroke="#7c7c7c" stroke-width="1.0" stroke-linecap="butt"/>
<text x="60.50" y="427.53" font-size="9.7" text-anchor="end">160</text>
<line x1="60.00" y1="411.42" x2="63.00" y2="411.42" stroke="#7c7c7c" stroke-width="1.0" stroke-linecap="butt"/>
<text x="60.50" y="414.91" font-size="9.7" text-anchor="end">180</text>
<line x1="60.00" y1="398.80" x2="63.00" y2="398.80" stroke="#7c7c7c" stroke-width="1.0" stroke-linecap="butt"/>
<text x="60.50" y="402.29" font-size="9.7" text-anchor="end">200</text>
<text transform="translate(41.00,457.80) rotate(-90)" font-size="10.0" text-anchor="middle">Insulin secretion (ng/ml)</text>
<rect x="70.00" y="504.18" width="9.20" height="20.82" fill="#000"/>
<rect x="88.10" y="448.14" width="9.70" height="77.61" fill="#fff" stroke="#000" stroke-width="1.5"/>
<clipPath id="c1"><rect x="79.95" y="456.97" width="8.10" height="68.78"/></clipPath>
<rect x="79.95" y="456.97" width="8.10" height="68.78" fill="#fff"/>
<path d="M78.95 534.53L89.05 526.75M78.95 531.03L89.05 523.25M78.95 527.53L89.05 519.75M78.95 524.03L89.05 516.25M78.95 520.53L89.05 512.75M78.95 517.03L89.05 509.25M78.95 513.53L89.05 505.75M78.95 510.03L89.05 502.25M78.95 506.53L89.05 498.75M78.95 503.03L89.05 495.25M78.95 499.53L89.05 491.75M78.95 496.03L89.05 488.25M78.95 492.53L89.05 484.75M78.95 489.03L89.05 481.25M78.95 485.53L89.05 477.75M78.95 482.03L89.05 474.25M78.95 478.53L89.05 470.75M78.95 475.03L89.05 467.25M78.95 471.53L89.05 463.75M78.95 468.03L89.05 460.25M78.95 464.53L89.05 456.75M78.95 461.03L89.05 453.25M78.95 457.53L89.05 449.75" stroke="#000" stroke-width="1.35" fill="none" clip-path="url(#c1)"/>
<rect x="79.95" y="456.97" width="8.10" height="68.78" fill="none" stroke="#000" stroke-width="1.5"/>
<clipPath id="c2"><rect x="97.75" y="418.48" width="7.70" height="107.27"/></clipPath>
<rect x="97.75" y="418.48" width="7.70" height="107.27" fill="#fff"/>
<path d="M96.75 526.75L106.45 534.22M96.75 523.25L106.45 530.72M96.75 519.75L106.45 527.22M96.75 516.25L106.45 523.72M96.75 512.75L106.45 520.22M96.75 509.25L106.45 516.72M96.75 505.75L106.45 513.22M96.75 502.25L106.45 509.72M96.75 498.75L106.45 506.22M96.75 495.25L106.45 502.72M96.75 491.75L106.45 499.22M96.75 488.25L106.45 495.72M96.75 484.75L106.45 492.22M96.75 481.25L106.45 488.72M96.75 477.75L106.45 485.22M96.75 474.25L106.45 481.72M96.75 470.75L106.45 478.22M96.75 467.25L106.45 474.72M96.75 463.75L106.45 471.22M96.75 460.25L106.45 467.72M96.75 456.75L106.45 464.22M96.75 453.25L106.45 460.72M96.75 449.75L106.45 457.22M96.75 446.25L106.45 453.72M96.75 442.75L106.45 450.22M96.75 439.25L106.45 446.72M96.75 435.75L106.45 443.22M96.75 432.25L106.45 439.72M96.75 428.75L106.45 436.22M96.75 425.25L106.45 432.72M96.75 421.75L106.45 429.22M96.75 418.25L106.45 425.72M96.75 414.75L106.45 422.22M96.75 411.25L106.45 418.72" stroke="#000" stroke-width="1.35" fill="none" clip-path="url(#c2)"/>
<rect x="97.75" y="418.48" width="7.70" height="107.27" fill="none" stroke="#000" stroke-width="1.5"/>
<line x1="74.60" y1="504.18" x2="74.60" y2="502.92" stroke="#000" stroke-width="1.7" stroke-linecap="butt"/>
<line x1="71.50" y1="502.92" x2="77.70" y2="502.92" stroke="#000" stroke-width="1.5" stroke-linecap="butt"/>
<line x1="84.00" y1="458.75" x2="84.00" y2="453.70" stroke="#000" stroke-width="1.7" stroke-linecap="butt"/>
<line x1="80.90" y1="453.70" x2="87.10" y2="453.70" stroke="#000" stroke-width="1.5" stroke-linecap="butt"/>
<line x1="80.90" y1="458.75" x2="87.10" y2="458.75" stroke="#000" stroke-width="1.5" stroke-linecap="butt"/>
<line x1="92.95" y1="454.96" x2="92.95" y2="439.81" stroke="#000" stroke-width="1.7" stroke-linecap="butt"/>
<line x1="89.85" y1="439.81" x2="96.05" y2="439.81" stroke="#000" stroke-width="1.5" stroke-linecap="butt"/>
<line x1="89.85" y1="454.96" x2="96.05" y2="454.96" stroke="#000" stroke-width="1.5" stroke-linecap="butt"/>
<line x1="101.60" y1="426.56" x2="101.60" y2="408.90" stroke="#000" stroke-width="1.7" stroke-linecap="butt"/>
<line x1="98.50" y1="408.90" x2="104.70" y2="408.90" stroke="#000" stroke-width="1.5" stroke-linecap="butt"/>
<line x1="98.50" y1="426.56" x2="104.70" y2="426.56" stroke="#000" stroke-width="1.5" stroke-linecap="butt"/>
<rect x="117.60" y="505.44" width="9.20" height="19.56" fill="#000"/>
<rect x="135.70" y="472.12" width="9.70" height="53.63" fill="#fff" stroke="#000" stroke-width="1.5"/>
<clipPath id="c3"><rect x="127.55" y="462.02" width="8.10" height="63.73"/></clipPath>
<rect x="127.55" y="462.02" width="8.10" height="63.73" fill="#fff"/>
<path d="M126.55 534.53L136.65 526.75M126.55 531.03L136.65 523.25M126.55 527.53L136.65 519.75M126.55 524.03L136.65 516.25M126.55 520.53L136.65 512.75M126.55 517.03L136.65 509.25M126.55 513.53L136.65 505.75M126.55 510.03L136.65 502.25M126.55 506.53L136.65 498.75M126.55 503.03L136.65 495.25M126.55 499.53L136.65 491.75M126.55 496.03L136.65 488.25M126.55 492.53L136.65 484.75M126.55 489.03L136.65 481.25M126.55 485.53L136.65 477.75M126.55 482.03L136.65 474.25M126.55 478.53L136.65 470.75M126.55 475.03L136.65 467.25M126.55 471.53L136.65 463.75M126.55 468.03L136.65 460.25M126.55 464.53L136.65 456.75M126.55 461.03L136.65 453.25" stroke="#000" stroke-width="1.35" fill="none" clip-path="url(#c3)"/>
<rect x="127.55" y="462.02" width="8.10" height="63.73" fill="none" stroke="#000" stroke-width="1.5"/>
<clipPath id="c4"><rect x="145.35" y="449.40" width="7.70" height="76.35"/></clipPath>
<rect x="145.35" y="449.40" width="7.70" height="76.35" fill="#fff"/>
<path d="M144.35 526.75L154.05 534.22M144.35 523.25L154.05 530.72M144.35 519.75L154.05 527.22M144.35 516.25L154.05 523.72M144.35 512.75L154.05 520.22M144.35 509.25L154.05 516.72M144.35 505.75L154.05 513.22M144.35 502.25L154.05 509.72M144.35 498.75L154.05 506.22M144.35 495.25L154.05 502.72M144.35 491.75L154.05 499.22M144.35 488.25L154.05 495.72M144.35 484.75L154.05 492.22M144.35 481.25L154.05 488.72M144.35 477.75L154.05 485.22M144.35 474.25L154.05 481.72M144.35 470.75L154.05 478.22M144.35 467.25L154.05 474.72M144.35 463.75L154.05 471.22M144.35 460.25L154.05 467.72M144.35 456.75L154.05 464.22M144.35 453.25L154.05 460.72M144.35 449.75L154.05 457.22M144.35 446.25L154.05 453.72M144.35 442.75L154.05 450.22" stroke="#000" stroke-width="1.35" fill="none" clip-path="url(#c4)"/>
<rect x="145.35" y="449.40" width="7.70" height="76.35" fill="none" stroke="#000" stroke-width="1.5"/>
<line x1="122.20" y1="505.44" x2="122.20" y2="502.92" stroke="#000" stroke-width="1.7" stroke-linecap="butt"/>
<line x1="119.10" y1="502.92" x2="125.30" y2="502.92" stroke="#000" stroke-width="1.5" stroke-linecap="butt"/>
<line x1="131.60" y1="463.16" x2="131.60" y2="459.38" stroke="#000" stroke-width="1.7" stroke-linecap="butt"/>
<line x1="128.50" y1="459.38" x2="134.70" y2="459.38" stroke="#000" stroke-width="1.5" stroke-linecap="butt"/>
<line x1="128.50" y1="463.16" x2="134.70" y2="463.16" stroke="#000" stroke-width="1.5" stroke-linecap="butt"/>
<line x1="140.55" y1="476.41" x2="140.55" y2="466.32" stroke="#000" stroke-width="1.7" stroke-linecap="butt"/>
<line x1="137.45" y1="466.32" x2="143.65" y2="466.32" stroke="#000" stroke-width="1.5" stroke-linecap="butt"/>
<line x1="137.45" y1="476.41" x2="143.65" y2="476.41" stroke="#000" stroke-width="1.5" stroke-linecap="butt"/>
<line x1="149.20" y1="458.75" x2="149.20" y2="438.55" stroke="#000" stroke-width="1.7" stroke-linecap="butt"/>
<line x1="146.10" y1="438.55" x2="152.30" y2="438.55" stroke="#000" stroke-width="1.5" stroke-linecap="butt"/>
<line x1="146.10" y1="458.75" x2="152.30" y2="458.75" stroke="#000" stroke-width="1.5" stroke-linecap="butt"/>
<rect x="165.20" y="502.92" width="9.20" height="22.08" fill="#000"/>
<rect x="183.30" y="450.03" width="9.70" height="75.72" fill="#fff" stroke="#000" stroke-width="1.5"/>
<clipPath id="c5"><rect x="175.15" y="460.76" width="8.10" height="64.99"/></clipPath>
<rect x="175.15" y="460.76" width="8.10" height="64.99" fill="#fff"/>
<path d="M174.15 534.53L184.25 526.75M174.15 531.03L184.25 523.25M174.15 527.53L184.25 519.75M174.15 524.03L184.25 516.25M174.15 520.53L184.25 512.75M174.15 517.03L184.25 509.25M174.15 513.53L184.25 505.75M174.15 510.03L184.25 502.25M174.15 506.53L184.25 498.75M174.15 503.03L184.25 495.25M174.15 499.53L184.25 491.75M174.15 496.03L184.25 488.25M174.15 492.53L184.25 484.75M174.15 489.03L184.25 481.25M174.15 485.53L184.25 477.75M174.15 482.03L184.25 474.25M174.15 478.53L184.25 470.75M174.15 475.03L184.25 467.25M174.15 471.53L184.25 463.75M174.15 468.03L184.25 460.25M174.15 464.53L184.25 456.75M174.15 461.03L184.25 453.25" stroke="#000" stroke-width="1.35" fill="none" clip-path="url(#c5)"/>
<rect x="175.15" y="460.76" width="8.10" height="64.99" fill="none" stroke="#000" stroke-width="1.5"/>
<clipPath id="c6"><rect x="192.95" y="424.79" width="7.70" height="100.96"/></clipPath>
<rect x="192.95" y="424.79" width="7.70" height="100.96" fill="#fff"/>
<path d="M191.95 526.75L201.65 534.22M191.95 523.25L201.65 530.72M191.95 519.75L201.65 527.22M191.95 516.25L201.65 523.72M191.95 512.75L201.65 520.22M191.95 509.25L201.65 516.72M191.95 505.75L201.65 513.22M191.95 502.25L201.65 509.72M191.95 498.75L201.65 506.22M191.95 495.25L201.65 502.72M191.95 491.75L201.65 499.22M191.95 488.25L201.65 495.72M191.95 484.75L201.65 492.22M191.95 481.25L201.65 488.72M191.95 477.75L201.65 485.22M191.95 474.25L201.65 481.72M191.95 470.75L201.65 478.22M191.95 467.25L201.65 474.72M191.95 463.75L201.65 471.22M191.95 460.25L201.65 467.72M191.95 456.75L201.65 464.22M191.95 453.25L201.65 460.72M191.95 449.75L201.65 457.22M191.95 446.25L201.65 453.72M191.95 442.75L201.65 450.22M191.95 439.25L201.65 446.72M191.95 435.75L201.65 443.22M191.95 432.25L201.65 439.72M191.95 428.75L201.65 436.22M191.95 425.25L201.65 432.72M191.95 421.75L201.65 429.22M191.95 418.25L201.65 425.72" stroke="#000" stroke-width="1.35" fill="none" clip-path="url(#c6)"/>
<rect x="192.95" y="424.79" width="7.70" height="100.96" fill="none" stroke="#000" stroke-width="1.5"/>
<line x1="169.80" y1="502.92" x2="169.80" y2="502.28" stroke="#000" stroke-width="1.7" stroke-linecap="butt"/>
<line x1="166.70" y1="502.28" x2="172.90" y2="502.28" stroke="#000" stroke-width="1.5" stroke-linecap="butt"/>
<line x1="179.20" y1="468.21" x2="179.20" y2="451.80" stroke="#000" stroke-width="1.7" stroke-linecap="butt"/>
<line x1="176.10" y1="451.80" x2="182.30" y2="451.80" stroke="#000" stroke-width="1.5" stroke-linecap="butt"/>
<line x1="176.10" y1="468.21" x2="182.30" y2="468.21" stroke="#000" stroke-width="1.5" stroke-linecap="butt"/>
<line x1="188.15" y1="450.42" x2="188.15" y2="448.14" stroke="#000" stroke-width="1.7" stroke-linecap="butt"/>
<line x1="185.05" y1="448.14" x2="191.25" y2="448.14" stroke="#000" stroke-width="1.5" stroke-linecap="butt"/>
<line x1="185.05" y1="450.42" x2="191.25" y2="450.42" stroke="#000" stroke-width="1.5" stroke-linecap="butt"/>
<line x1="196.80" y1="427.19" x2="196.80" y2="420.89" stroke="#000" stroke-width="1.7" stroke-linecap="butt"/>
<line x1="193.70" y1="420.89" x2="199.90" y2="420.89" stroke="#000" stroke-width="1.5" stroke-linecap="butt"/>
<line x1="193.70" y1="427.19" x2="199.90" y2="427.19" stroke="#000" stroke-width="1.5" stroke-linecap="butt"/>
<rect x="212.80" y="504.18" width="9.20" height="20.82" fill="#000"/>
<rect x="230.90" y="467.07" width="9.70" height="58.68" fill="#fff" stroke="#000" stroke-width="1.5"/>
<clipPath id="c7"><rect x="222.75" y="459.50" width="8.10" height="66.25"/></clipPath>
<rect x="222.75" y="459.50" width="8.10" height="66.25" fill="#fff"/>
<path d="M221.75 534.53L231.85 526.75M221.75 531.03L231.85 523.25M221.75 527.53L231.85 519.75M221.75 524.03L231.85 516.25M221.75 520.53L231.85 512.75M221.75 517.03L231.85 509.25M221.75 513.53L231.85 505.75M221.75 510.03L231.85 502.25M221.75 506.53L231.85 498.75M221.75 503.03L231.85 495.25M221.75 499.53L231.85 491.75M221.75 496.03L231.85 488.25M221.75 492.53L231.85 484.75M221.75 489.03L231.85 481.25M221.75 485.53L231.85 477.75M221.75 482.03L231.85 474.25M221.75 478.53L231.85 470.75M221.75 475.03L231.85 467.25M221.75 471.53L231.85 463.75M221.75 468.03L231.85 460.25M221.75 464.53L231.85 456.75M221.75 461.03L231.85 453.25" stroke="#000" stroke-width="1.35" fill="none" clip-path="url(#c7)"/>
<rect x="222.75" y="459.50" width="8.10" height="66.25" fill="none" stroke="#000" stroke-width="1.5"/>
<clipPath id="c8"><rect x="240.55" y="446.24" width="7.70" height="79.51"/></clipPath>
<rect x="240.55" y="446.24" width="7.70" height="79.51" fill="#fff"/>
<path d="M239.55 526.75L249.25 534.22M239.55 523.25L249.25 530.72M239.55 519.75L249.25 527.22M239.55 516.25L249.25 523.72M239.55 512.75L249.25 520.22M239.55 509.25L249.25 516.72M239.55 505.75L249.25 513.22M239.55 502.25L249.25 509.72M239.55 498.75L249.25 506.22M239.55 495.25L249.25 502.72M239.55 491.75L249.25 499.22M239.55 488.25L249.25 495.72M239.55 484.75L249.25 492.22M239.55 481.25L249.25 488.72M239.55 477.75L249.25 485.22M239.55 474.25L249.25 481.72M239.55 470.75L249.25 478.22M239.55 467.25L249.25 474.72M239.55 463.75L249.25 471.22M239.55 460.25L249.25 467.72M239.55 456.75L249.25 464.22M239.55 453.25L249.25 460.72M239.55 449.75L249.25 457.22M239.55 446.25L249.25 453.72M239.55 442.75L249.25 450.22M239.55 439.25L249.25 446.72" stroke="#000" stroke-width="1.35" fill="none" clip-path="url(#c8)"/>
<rect x="240.55" y="446.24" width="7.70" height="79.51" fill="none" stroke="#000" stroke-width="1.5"/>
<line x1="217.40" y1="504.18" x2="217.40" y2="502.28" stroke="#000" stroke-width="1.7" stroke-linecap="butt"/>
<line x1="214.30" y1="502.28" x2="220.50" y2="502.28" stroke="#000" stroke-width="1.5" stroke-linecap="butt"/>
<line x1="226.80" y1="461.27" x2="226.80" y2="456.22" stroke="#000" stroke-width="1.7" stroke-linecap="butt"/>
<line x1="223.70" y1="456.22" x2="229.90" y2="456.22" stroke="#000" stroke-width="1.5" stroke-linecap="butt"/>
<line x1="223.70" y1="461.27" x2="229.90" y2="461.27" stroke="#000" stroke-width="1.5" stroke-linecap="butt"/>
<line x1="235.75" y1="469.47" x2="235.75" y2="463.16" stroke="#000" stroke-width="1.7" stroke-linecap="butt"/>
<line x1="232.65" y1="463.16" x2="238.85" y2="463.16" stroke="#000" stroke-width="1.5" stroke-linecap="butt"/>
<line x1="232.65" y1="469.47" x2="238.85" y2="469.47" stroke="#000" stroke-width="1.5" stroke-linecap="butt"/>
<line x1="244.40" y1="450.54" x2="244.40" y2="440.45" stroke="#000" stroke-width="1.7" stroke-linecap="butt"/>
<line x1="241.30" y1="440.45" x2="247.50" y2="440.45" stroke="#000" stroke-width="1.5" stroke-linecap="butt"/>
<line x1="241.30" y1="450.54" x2="247.50" y2="450.54" stroke="#000" stroke-width="1.5" stroke-linecap="butt"/>
<line x1="62.40" y1="524.80" x2="255.60" y2="524.80" stroke="#4a4a4a" stroke-width="1.5" stroke-linecap="butt"/>
<text x="87.50" y="534.94" font-size="10.1" text-anchor="middle">Si-NT</text>
<text x="134.10" y="534.94" font-size="10.1" text-anchor="middle">Si-GPR43</text>
<text x="183.80" y="534.94" font-size="10.1" text-anchor="middle">Si-GPR41</text>
<text x="232.30" y="534.94" font-size="10.1" text-anchor="middle">Si-Gαq/11</text>
<line x1="80.00" y1="402.50" x2="105.80" y2="402.50" stroke="#000" stroke-width="1.6" stroke-linecap="butt"/>
<text x="92.50" y="401.05" font-size="7.5" text-anchor="middle" font-weight="bold">*</text>
<line x1="128.50" y1="450.30" x2="141.80" y2="450.30" stroke="#000" stroke-width="1.6" stroke-linecap="butt"/>
<text x="134.60" y="446.85" font-size="7.5" text-anchor="middle" font-weight="bold">*</text>
<line x1="174.30" y1="412.00" x2="200.80" y2="412.00" stroke="#000" stroke-width="1.6" stroke-linecap="butt"/>
<text x="185.50" y="408.75" font-size="7.5" text-anchor="middle" font-weight="bold">*</text>
<rect x="259.30" y="419.30" width="4.30" height="3.00" fill="#000" stroke="#000" stroke-width="1.5"/>
<text x="264.30" y="424.23" font-size="9.8" text-anchor="start">2.8  mM</text>
<clipPath id="c9"><rect x="259.30" y="435.90" width="4.30" height="3.00"/></clipPath>
<rect x="259.30" y="435.90" width="4.30" height="3.00" fill="#fff"/>
<path d="M258.30 444.94L264.60 439.90M258.30 442.94L264.60 437.90M258.30 440.94L264.60 435.90M258.30 438.94L264.60 433.90M258.30 436.94L264.60 431.90M258.30 434.94L264.60 429.90" stroke="#000" stroke-width="1.0" fill="none" clip-path="url(#c9)"/>
<rect x="259.30" y="435.90" width="4.30" height="3.00" fill="none" stroke="#000" stroke-width="1.5"/>
<text x="264.30" y="440.83" font-size="9.8" text-anchor="start">16.7 mM</text>
<rect x="259.30" y="452.50" width="4.30" height="3.00" fill="#fff" stroke="#000" stroke-width="1.5"/>
<text x="264.30" y="457.43" font-size="9.8" text-anchor="start">16.7 mM + acetate</text>
<clipPath id="c10"><rect x="259.30" y="469.10" width="4.30" height="3.00"/></clipPath>
<rect x="259.30" y="469.10" width="4.30" height="3.00" fill="#fff"/>
<path d="M258.30 473.10L264.60 478.14M258.30 471.10L264.60 476.14M258.30 469.10L264.60 474.14M258.30 467.10L264.60 472.14M258.30 465.10L264.60 470.14M258.30 463.10L264.60 468.14" stroke="#000" stroke-width="1.0" fill="none" clip-path="url(#c10)"/>
<rect x="259.30" y="469.10" width="4.30" height="3.00" fill="none" stroke="#000" stroke-width="1.5"/>
<text x="264.30" y="474.03" font-size="9.8" text-anchor="start">16.7 mM+ PA</text>
<text x="351.10" y="391.70" font-size="19.5" text-anchor="start" font-weight="bold" style="stroke-width:0.8px">F</text>
<text x="441.00" y="388.83" font-size="9.8" text-anchor="middle">Min6 GSIS</text>
<line x1="384.50" y1="399.50" x2="384.50" y2="525.50" stroke="#7c7c7c" stroke-width="1.4" stroke-linecap="butt"/>
<line x1="381.50" y1="525.00" x2="384.50" y2="525.00" stroke="#7c7c7c" stroke-width="1.0" stroke-linecap="butt"/>
<text x="382.00" y="529.29" font-size="9.7" text-anchor="end">0</text>
<line x1="381.50" y1="511.11" x2="384.50" y2="511.11" stroke="#7c7c7c" stroke-width="1.0" stroke-linecap="butt"/>
<text x="382.00" y="515.40" font-size="9.7" text-anchor="end">0.05</text>
<line x1="381.50" y1="497.22" x2="384.50" y2="497.22" stroke="#7c7c7c" stroke-width="1.0" stroke-linecap="butt"/>
<text x="382.00" y="501.51" font-size="9.7" text-anchor="end">0.1</text>
<line x1="381.50" y1="483.33" x2="384.50" y2="483.33" stroke="#7c7c7c" stroke-width="1.0" stroke-linecap="butt"/>
<text x="382.00" y="487.63" font-size="9.7" text-anchor="end">0.15</text>
<line x1="381.50" y1="469.44" x2="384.50" y2="469.44" stroke="#7c7c7c" stroke-width="1.0" stroke-linecap="butt"/>
<text x="382.00" y="473.74" font-size="9.7" text-anchor="end">0.2</text>
<line x1="381.50" y1="455.56" x2="384.50" y2="455.56" stroke="#7c7c7c" stroke-width="1.0" stroke-linecap="butt"/>
<text x="382.00" y="459.85" font-size="9.7" text-anchor="end">0.25</text>
<line x1="381.50" y1="441.67" x2="384.50" y2="441.67" stroke="#7c7c7c" stroke-width="1.0" stroke-linecap="butt"/>
<text x="382.00" y="445.96" font-size="9.7" text-anchor="end">0.3</text>
<line x1="381.50" y1="427.78" x2="384.50" y2="427.78" stroke="#7c7c7c" stroke-width="1.0" stroke-linecap="butt"/>
<text x="382.00" y="432.07" font-size="9.7" text-anchor="end">0.35</text>
<line x1="381.50" y1="413.89" x2="384.50" y2="413.89" stroke="#7c7c7c" stroke-width="1.0" stroke-linecap="butt"/>
<text x="382.00" y="418.18" font-size="9.7" text-anchor="end">0.4</text>
<line x1="381.50" y1="400.00" x2="384.50" y2="400.00" stroke="#7c7c7c" stroke-width="1.0" stroke-linecap="butt"/>
<text x="382.00" y="404.29" font-size="9.7" text-anchor="end">0.45</text>
<text transform="translate(359.80,468.50) rotate(-90)" font-size="9.8" text-anchor="middle">ng/ug protein</text>
<rect x="393.75" y="510.56" width="15.00" height="14.44" fill="#000"/>
<line x1="401.25" y1="510.56" x2="401.25" y2="509.72" stroke="#000" stroke-width="1.5" stroke-linecap="butt"/>
<line x1="399.25" y1="509.72" x2="403.25" y2="509.72" stroke="#000" stroke-width="1.5" stroke-linecap="butt"/>
<rect x="427.25" y="469.44" width="15.00" height="55.56" fill="#000"/>
<line x1="434.75" y1="469.44" x2="434.75" y2="466.11" stroke="#000" stroke-width="1.5" stroke-linecap="butt"/>
<line x1="432.75" y1="466.11" x2="436.75" y2="466.11" stroke="#000" stroke-width="1.5" stroke-linecap="butt"/>
<rect x="460.75" y="456.94" width="15.00" height="68.06" fill="#000"/>
<line x1="468.25" y1="456.94" x2="468.25" y2="448.61" stroke="#000" stroke-width="1.5" stroke-linecap="butt"/>
<line x1="466.25" y1="448.61" x2="470.25" y2="448.61" stroke="#000" stroke-width="1.5" stroke-linecap="butt"/>
<rect x="494.25" y="422.22" width="15.00" height="102.78" fill="#000"/>
<line x1="501.75" y1="422.22" x2="501.75" y2="413.89" stroke="#000" stroke-width="1.5" stroke-linecap="butt"/>
<line x1="499.75" y1="413.89" x2="503.75" y2="413.89" stroke="#000" stroke-width="1.5" stroke-linecap="butt"/>
<line x1="384.50" y1="525.00" x2="384.50" y2="553.00" stroke="#7c7c7c" stroke-width="1.4" stroke-linecap="butt"/>
<line x1="418.00" y1="525.00" x2="418.00" y2="553.00" stroke="#7c7c7c" stroke-width="1.4" stroke-linecap="butt"/>
<line x1="451.50" y1="525.00" x2="451.50" y2="543.50" stroke="#7c7c7c" stroke-width="1.4" stroke-linecap="butt"/>
<line x1="485.00" y1="525.00" x2="485.00" y2="543.50" stroke="#7c7c7c" stroke-width="1.4" stroke-linecap="butt"/>
<line x1="518.50" y1="525.00" x2="518.50" y2="553.00" stroke="#7c7c7c" stroke-width="1.4" stroke-linecap="butt"/>
<line x1="383.90" y1="525.00" x2="519.10" y2="525.00" stroke="#7c7c7c" stroke-width="1.4" stroke-linecap="butt"/>
<text x="401.25" y="536.03" font-size="9.8" text-anchor="middle">Control</text>
<text x="434.75" y="536.03" font-size="9.8" text-anchor="middle">Control</text>
<text x="468.25" y="536.03" font-size="9.8" text-anchor="middle">Acetate</text>
<text x="501.75" y="536.03" font-size="9.8" text-anchor="middle">PA</text>
<text x="380.00" y="550.83" font-size="9.8" text-anchor="end">Glucose (mM)</text>
<text x="401.00" y="550.83" font-size="9.8" text-anchor="middle">2.8</text>
<text x="468.50" y="550.83" font-size="9.8" text-anchor="middle">16.7</text>
<line x1="427.00" y1="403.80" x2="506.00" y2="403.80" stroke="#000" stroke-width="1.6" stroke-linecap="butt"/>
<text x="468.00" y="402.05" font-size="7.5" text-anchor="middle" font-weight="bold">*</text>
<text x="10.10" y="565.30" font-size="19.5" text-anchor="start" font-weight="bold" style="stroke-width:0.8px">G</text>
<text x="138.20" y="555.90" font-size="10.0" text-anchor="middle">Human GSIS</text>
<line x1="63.80" y1="572.50" x2="63.80" y2="671.50" stroke="#7c7c7c" stroke-width="1.4" stroke-linecap="butt"/>
<line x1="60.80" y1="671.00" x2="63.80" y2="671.00" stroke="#7c7c7c" stroke-width="1.0" stroke-linecap="butt"/>
<text x="61.30" y="674.49" font-size="9.7" text-anchor="end">0</text>
<line x1="60.80" y1="661.20" x2="63.80" y2="661.20" stroke="#7c7c7c" stroke-width="1.0" stroke-linecap="butt"/>
<text x="61.30" y="664.69" font-size="9.7" text-anchor="end">20</text>
<line x1="60.80" y1="651.40" x2="63.80" y2="651.40" stroke="#7c7c7c" stroke-width="1.0" stroke-linecap="butt"/>
<text x="61.30" y="654.89" font-size="9.7" text-anchor="end">40</text>
<line x1="60.80" y1="641.60" x2="63.80" y2="641.60" stroke="#7c7c7c" stroke-width="1.0" stroke-linecap="butt"/>
<text x="61.30" y="645.09" font-size="9.7" text-anchor="end">60</text>
<line x1="60.80" y1="631.80" x2="63.80" y2="631.80" stroke="#7c7c7c" stroke-width="1.0" stroke-linecap="butt"/>
<text x="61.30" y="635.29" font-size="9.7" text-anchor="end">80</text>
<line x1="60.80" y1="622.00" x2="63.80" y2="622.00" stroke="#7c7c7c" stroke-width="1.0" stroke-linecap="butt"/>
<text x="61.30" y="625.49" font-size="9.7" text-anchor="end">100</text>
<line x1="60.80" y1="612.20" x2="63.80" y2="612.20" stroke="#7c7c7c" stroke-width="1.0" stroke-linecap="butt"/>
<text x="61.30" y="615.69" font-size="9.7" text-anchor="end">120</text>
<line x1="60.80" y1="602.40" x2="63.80" y2="602.40" stroke="#7c7c7c" stroke-width="1.0" stroke-linecap="butt"/>
<text x="61.30" y="605.89" font-size="9.7" text-anchor="end">140</text>
<line x1="60.80" y1="592.60" x2="63.80" y2="592.60" stroke="#7c7c7c" stroke-width="1.0" stroke-linecap="butt"/>
<text x="61.30" y="596.09" font-size="9.7" text-anchor="end">160</text>
<line x1="60.80" y1="582.80" x2="63.80" y2="582.80" stroke="#7c7c7c" stroke-width="1.0" stroke-linecap="butt"/>
<text x="61.30" y="586.29" font-size="9.7" text-anchor="end">180</text>
<line x1="60.80" y1="573.00" x2="63.80" y2="573.00" stroke="#7c7c7c" stroke-width="1.0" stroke-linecap="butt"/>
<text x="61.30" y="576.49" font-size="9.7" text-anchor="end">200</text>
<text transform="translate(39.60,620.70) rotate(-90)" font-size="10.0" text-anchor="middle">Insulin secretion (ng/ml)</text>
<rect x="74.30" y="652.38" width="17.00" height="18.62" fill="#000"/>
<line x1="82.80" y1="652.38" x2="82.80" y2="649.44" stroke="#000" stroke-width="1.5" stroke-linecap="butt"/>
<line x1="80.80" y1="649.44" x2="84.80" y2="649.44" stroke="#000" stroke-width="1.5" stroke-linecap="butt"/>
<rect x="112.30" y="613.18" width="17.00" height="57.82" fill="#000"/>
<line x1="120.80" y1="613.18" x2="120.80" y2="607.54" stroke="#000" stroke-width="1.5" stroke-linecap="butt"/>
<line x1="118.80" y1="607.54" x2="122.80" y2="607.54" stroke="#000" stroke-width="1.5" stroke-linecap="butt"/>
<rect x="150.30" y="619.79" width="17.00" height="51.21" fill="#000"/>
<line x1="158.80" y1="619.79" x2="158.80" y2="611.95" stroke="#000" stroke-width="1.5" stroke-linecap="butt"/>
<line x1="156.80" y1="611.95" x2="160.80" y2="611.95" stroke="#000" stroke-width="1.5" stroke-linecap="butt"/>
<rect x="188.30" y="585.74" width="17.00" height="85.26" fill="#000"/>
<line x1="196.80" y1="585.74" x2="196.80" y2="576.43" stroke="#000" stroke-width="1.5" stroke-linecap="butt"/>
<line x1="194.80" y1="576.43" x2="198.80" y2="576.43" stroke="#000" stroke-width="1.5" stroke-linecap="butt"/>
<line x1="63.80" y1="671.00" x2="63.80" y2="697.00" stroke="#7c7c7c" stroke-width="1.4" stroke-linecap="butt"/>
<line x1="101.80" y1="671.00" x2="101.80" y2="697.00" stroke="#7c7c7c" stroke-width="1.4" stroke-linecap="butt"/>
<line x1="139.80" y1="671.00" x2="139.80" y2="682.00" stroke="#7c7c7c" stroke-width="1.4" stroke-linecap="butt"/>
<line x1="177.80" y1="671.00" x2="177.80" y2="682.00" stroke="#7c7c7c" stroke-width="1.4" stroke-linecap="butt"/>
<line x1="215.80" y1="671.00" x2="215.80" y2="697.00" stroke="#7c7c7c" stroke-width="1.4" stroke-linecap="butt"/>
<line x1="63.20" y1="671.00" x2="216.40" y2="671.00" stroke="#7c7c7c" stroke-width="1.4" stroke-linecap="butt"/>
<text x="82.80" y="681.99" font-size="9.7" text-anchor="middle">Control</text>
<text x="120.80" y="681.99" font-size="9.7" text-anchor="middle">Control</text>
<text x="158.80" y="681.99" font-size="9.7" text-anchor="middle">Acetate</text>
<text x="196.80" y="681.99" font-size="9.7" text-anchor="middle">PA</text>
<text x="60.50" y="693.03" font-size="9.8" text-anchor="end">Glucose (mM)</text>
<text x="81.50" y="693.03" font-size="9.8" text-anchor="middle">2.8</text>
<text x="161.00" y="692.83" font-size="9.8" text-anchor="middle">16.7</text>
<line x1="118.50" y1="570.50" x2="198.50" y2="570.50" stroke="#000" stroke-width="1.6" stroke-linecap="butt"/>
<text x="163.50" y="568.85" font-size="7.5" text-anchor="middle" font-weight="bold">*</text>
</svg>
</body></html>
